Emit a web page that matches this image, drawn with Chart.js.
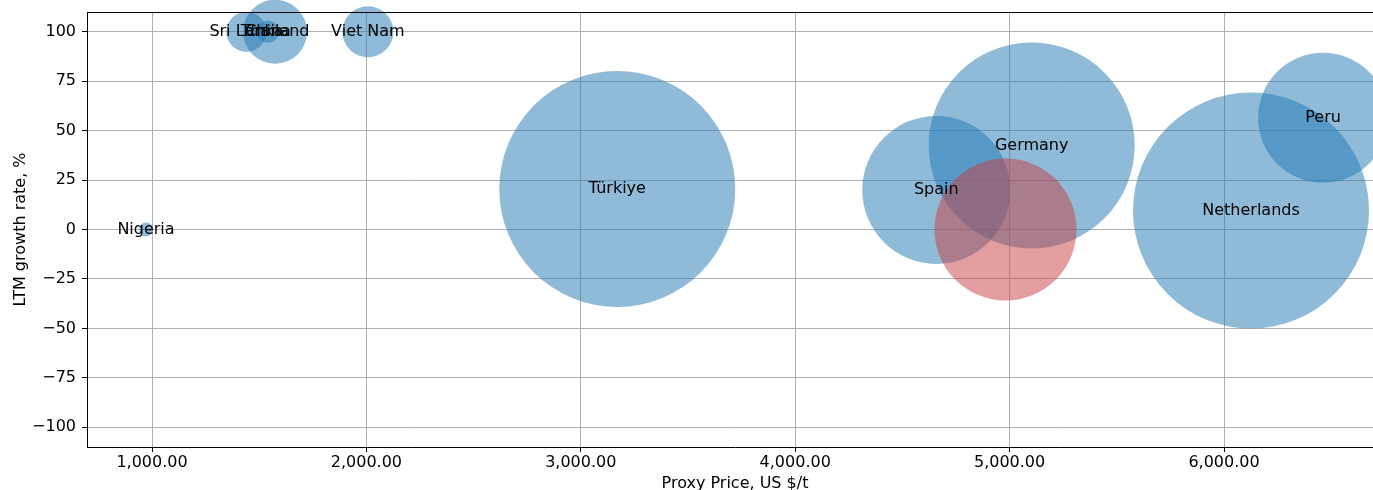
<!DOCTYPE html>
<html>
<head>
<meta charset="utf-8">
<script src="https://cdn.jsdelivr.net/npm/chart.js@4"></script>
<style>
  html, body { margin: 0; padding: 0; background: #fff; overflow: hidden; }
  #wrap { width: 1400px; height: 500px; }
</style>
</head>
<body>
<div id="wrap"><canvas id="bubbleChart" width="1400" height="500"></canvas></div>
<script>
// --- data ---
const countries = ["Nigeria", "Sri Lanka", "China", "Thailand", "Viet Nam", "Türkiye", "Spain", "Germany", "Netherlands", "Peru"];
const proxyPrice = [972, 1440, 1541, 1574, 2007, 3170, 4658, 5103, 6126, 6462];
const growthRate = [0, 100, 100, 100, 100, 20.5, 20, 42.5, 9.6, 56.5];
const bubbleSize = [7, 20, 11, 32, 25.5, 118, 74, 103, 118, 65];

// highlighted point (no label)
const highlightPrice = [4981];
const highlightGrowth = [0];
const highlightSize = [71];

const xTicks = [1000, 2000, 3000, 4000, 5000, 6000];
const yTicks = [-100, -75, -50, -25, 0, 25, 50, 75, 100];

const FONT = "DejaVu Sans";
const FS = 16;

function fmtPrice(v) {
    return v.toLocaleString("en-US", { minimumFractionDigits: 2, maximumFractionDigits: 2 });
}

function fmtRate(v) {
    return v < 0 ? "\u2212" + Math.abs(v) : String(v);
}

const blueData = countries.map((c, i) => ({ x: proxyPrice[i], y: growthRate[i], r: bubbleSize[i] }));
const redData = highlightPrice.map((p, i) => ({ x: p, y: highlightGrowth[i], r: highlightSize[i] }));

// country names in the middle of each bubble
const bubbleLabels = {
    id: "bubbleLabels",
    afterDatasetsDraw(chart) {
        const c = chart.ctx;
        const xs = chart.scales.x, ys = chart.scales.y;
        c.save();
        c.font = FS + "px '" + FONT + "'";
        c.fillStyle = "#000";
        c.textAlign = "center";
        c.textBaseline = "middle";
        countries.forEach((name, i) => {
            c.fillText(name, xs.getPixelForValue(proxyPrice[i]), ys.getPixelForValue(growthRate[i]));
        });
        c.restore();
    }
};

// top/right spines
const frame = {
    id: "frame",
    afterDraw(chart) {
        const a = chart.chartArea;
        const c = chart.ctx;
        c.save();
        c.strokeStyle = "#000";
        c.lineWidth = 1;
        c.beginPath();
        c.moveTo(a.left, a.top + 0.5);
        c.lineTo(a.right, a.top + 0.5);
        c.moveTo(a.right - 0.5, a.top);
        c.lineTo(a.right - 0.5, a.bottom);
        c.stroke();
        c.restore();
    }
};

const ctx = document.getElementById("bubbleChart");
const chart = new Chart(ctx, {
    type: "bubble",
    data: {
        datasets: [
            {
                label: "highlight",
                data: redData,
                backgroundColor: "rgba(200, 62, 64, 0.5)",
                borderWidth: 0,
                hoverBorderWidth: 0,
                clip: false,
                order: 0
            },
            {
                label: "countries",
                data: blueData,
                backgroundColor: "rgba(31, 119, 180, 0.5)",
                borderWidth: 0,
                hoverBorderWidth: 0,
                clip: false,
                order: 1
            }
        ]
    },
    options: {
        responsive: false,
        animation: false,
        devicePixelRatio: 1,
        layout: { autoPadding: false, padding: { left: 0, right: 17, top: 12, bottom: 0 } },
        plugins: { legend: { display: false }, tooltip: { enabled: false } },
        scales: {
            x: {
                type: "linear",
                min: 696.8,
                max: 6741.6,
                afterBuildTicks: (s) => { s.ticks = xTicks.map(v => ({ value: v })); },
                afterFit: (s) => { s.height = 53; s.paddingLeft = 0; s.paddingRight = 0; },
                grid: { color: "#b0b0b0", tickColor: "#000", tickLength: 5, lineWidth: 1 },
                border: { color: "#000", width: 1 },
                ticks: {
                    color: "#000",
                    font: { family: FONT, size: FS },
                    padding: 1.5,
                    maxRotation: 0,
                    callback: (v) => fmtPrice(v)
                },
                title: {
                    display: true,
                    text: "Proxy Price, US $/t",
                    color: "#000",
                    font: { family: FONT, size: FS },
                    padding: { top: 0, bottom: 7 }
                }
            },
            y: {
                type: "linear",
                min: -110,
                max: 110,
                afterBuildTicks: (s) => { s.ticks = yTicks.map(v => ({ value: v })); },
                afterFit: (s) => { s.width = 87; s.paddingTop = 0; s.paddingBottom = 0; },
                grid: { color: "#b0b0b0", tickColor: "#000", tickLength: 5, lineWidth: 1 },
                border: { color: "#000", width: 1 },
                ticks: {
                    color: "#000",
                    font: { family: FONT, size: FS },
                    padding: 6,
                    callback: (v) => fmtRate(v)
                },
                title: {
                    display: true,
                    text: "LTM growth rate, %",
                    color: "#000",
                    font: { family: FONT, size: FS },
                    padding: { top: 11, bottom: 0 }
                }
            }
        }
    },
    plugins: [bubbleLabels, frame]
});
</script>
</body>
</html>
